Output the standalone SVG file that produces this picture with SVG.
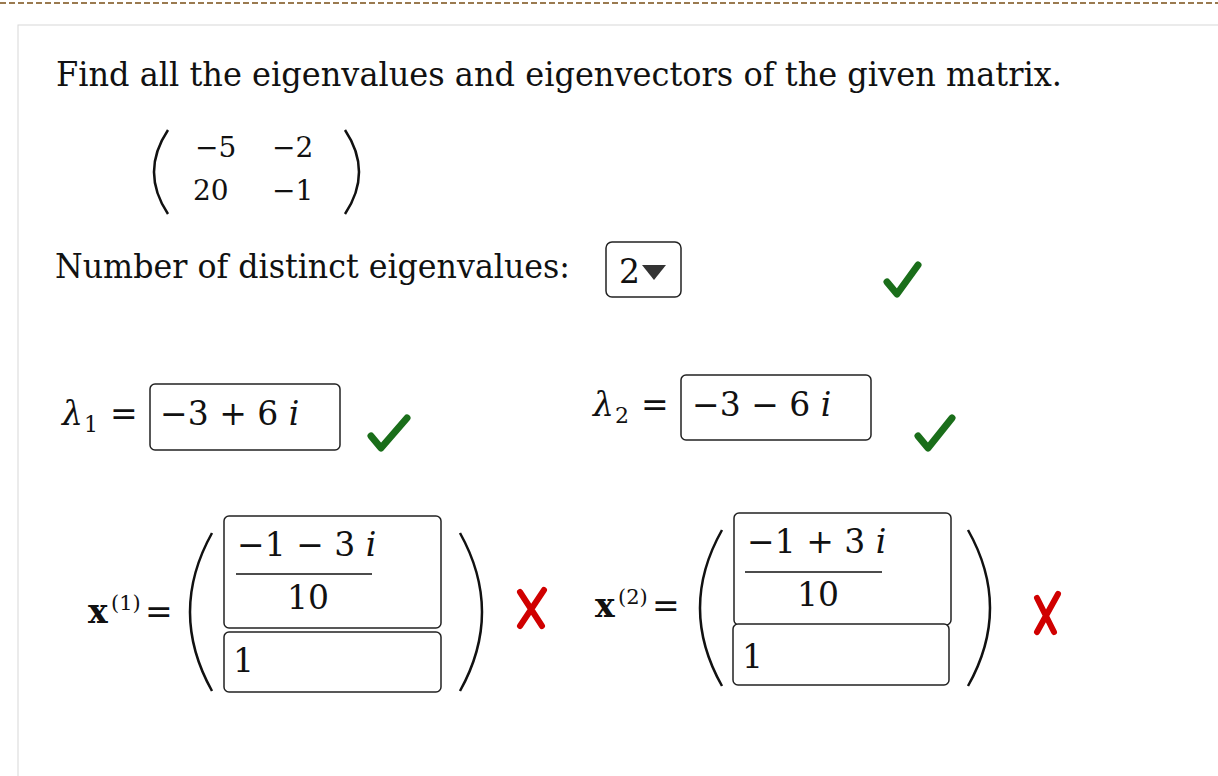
<svg xmlns="http://www.w3.org/2000/svg" width="1218" height="776" viewBox="0 0 1218 776">
<style>
text{font-family:"DejaVu Serif","Liberation Serif",serif;fill:#111}
.t{font-size:33px}
.m{font-size:28px}
.box{fill:#fff;stroke:#222;stroke-width:1.5}
.par{fill:none;stroke:#111;stroke-width:2.5}
.ok{fill:none;stroke:#1a6e1a;stroke-width:7;stroke-linecap:round;stroke-linejoin:round}
.bad{fill:none;stroke:#d00000;stroke-width:6;stroke-linecap:round}
</style>
<rect width="1218" height="776" fill="#fff"/>
<line x1="0" y1="3" x2="1218" y2="3" stroke="#9a7a50" stroke-width="2" stroke-dasharray="6,3"/>
<rect x="18" y="25" width="1210" height="770" fill="#fff" stroke="#d8d8d8"/>
<text class="t" x="56" y="86" textLength="1006" lengthAdjust="spacingAndGlyphs">Find all the eigenvalues and eigenvectors of the given matrix.</text>
<g id="matrix">
<path class="par" d="M168 130 Q140 172 168 214"/>
<path class="par" d="M345 130 Q373 172 345 214"/>
<text class="m" x="195" y="157">−5</text><text class="m" x="272" y="157">−2</text>
<text class="m" x="193" y="200">20</text><text class="m" x="272" y="200">−1</text>
</g>
<text class="t" x="55" y="278" textLength="515" lengthAdjust="spacingAndGlyphs">Number of distinct eigenvalues:</text>
<rect class="box" x="606" y="242" width="75" height="55" rx="6"/>
<text class="t" x="619" y="283">2</text>
<path d="M642 265 L666 265 L654 280 Z" fill="#333"/>
<path class="ok" d="M887 282 L897 294 L918 265"/>
<text class="t" x="62" y="425" font-style="italic">λ</text><text x="84" y="432" font-size="22">1</text><text class="t" x="110" y="425">=</text>
<rect class="box" x="150" y="384" width="190" height="66" rx="5"/>
<text class="t" x="160" y="425">−3 + 6 <tspan font-style="italic">i</tspan></text>
<path class="ok" d="M371 436 L381 448 L407 418"/>
<text class="t" x="593" y="416" font-style="italic">λ</text><text x="615" y="423" font-size="22">2</text><text class="t" x="641" y="416">=</text>
<rect class="box" x="681" y="375" width="190" height="65" rx="5"/>
<text class="t" x="692" y="416">−3 − 6 <tspan font-style="italic">i</tspan></text>
<path class="ok" d="M918 436 L928 448 L952 418"/>
<g id="vec1">
<text class="t" x="88" y="623" font-weight="bold">x</text><text x="111" y="610" font-size="21">(1)</text><text class="t" x="145" y="623">=</text>
<path class="par" d="M212 533 Q168 612 212 691"/>
<path class="par" d="M460 533 Q504 612 460 691"/>
<rect class="box" x="224" y="516" width="217" height="112" rx="5"/>
<text class="t" x="237" y="556">−1 − 3 <tspan font-style="italic">i</tspan></text>
<line x1="236" y1="574" x2="372" y2="574" stroke="#111" stroke-width="1.5"/>
<text class="t" x="287" y="609">10</text>
<rect class="box" x="224" y="632" width="217" height="60" rx="5"/>
<text class="t" x="233" y="672">1</text>
<path class="bad" d="M520 626 L544 590 M520 592 L542 626"/>
</g>
<g id="vec2">
<text class="t" x="595" y="617" font-weight="bold">x</text><text x="618" y="604" font-size="21">(2)</text><text class="t" x="652" y="617">=</text>
<path class="par" d="M722 530 Q678 608 722 686"/>
<path class="par" d="M968 530 Q1012 608 968 686"/>
<rect class="box" x="734" y="513" width="217" height="112" rx="5"/>
<text class="t" x="747" y="553">−1 + 3 <tspan font-style="italic">i</tspan></text>
<line x1="745" y1="572" x2="882" y2="572" stroke="#111" stroke-width="1.5"/>
<text class="t" x="797" y="606">10</text>
<rect class="box" x="733" y="624" width="216" height="61" rx="5"/>
<text class="t" x="742" y="668">1</text>
<path class="bad" d="M1037 632 L1058 594 M1037 598 L1054 632"/>
</g>
</svg>
